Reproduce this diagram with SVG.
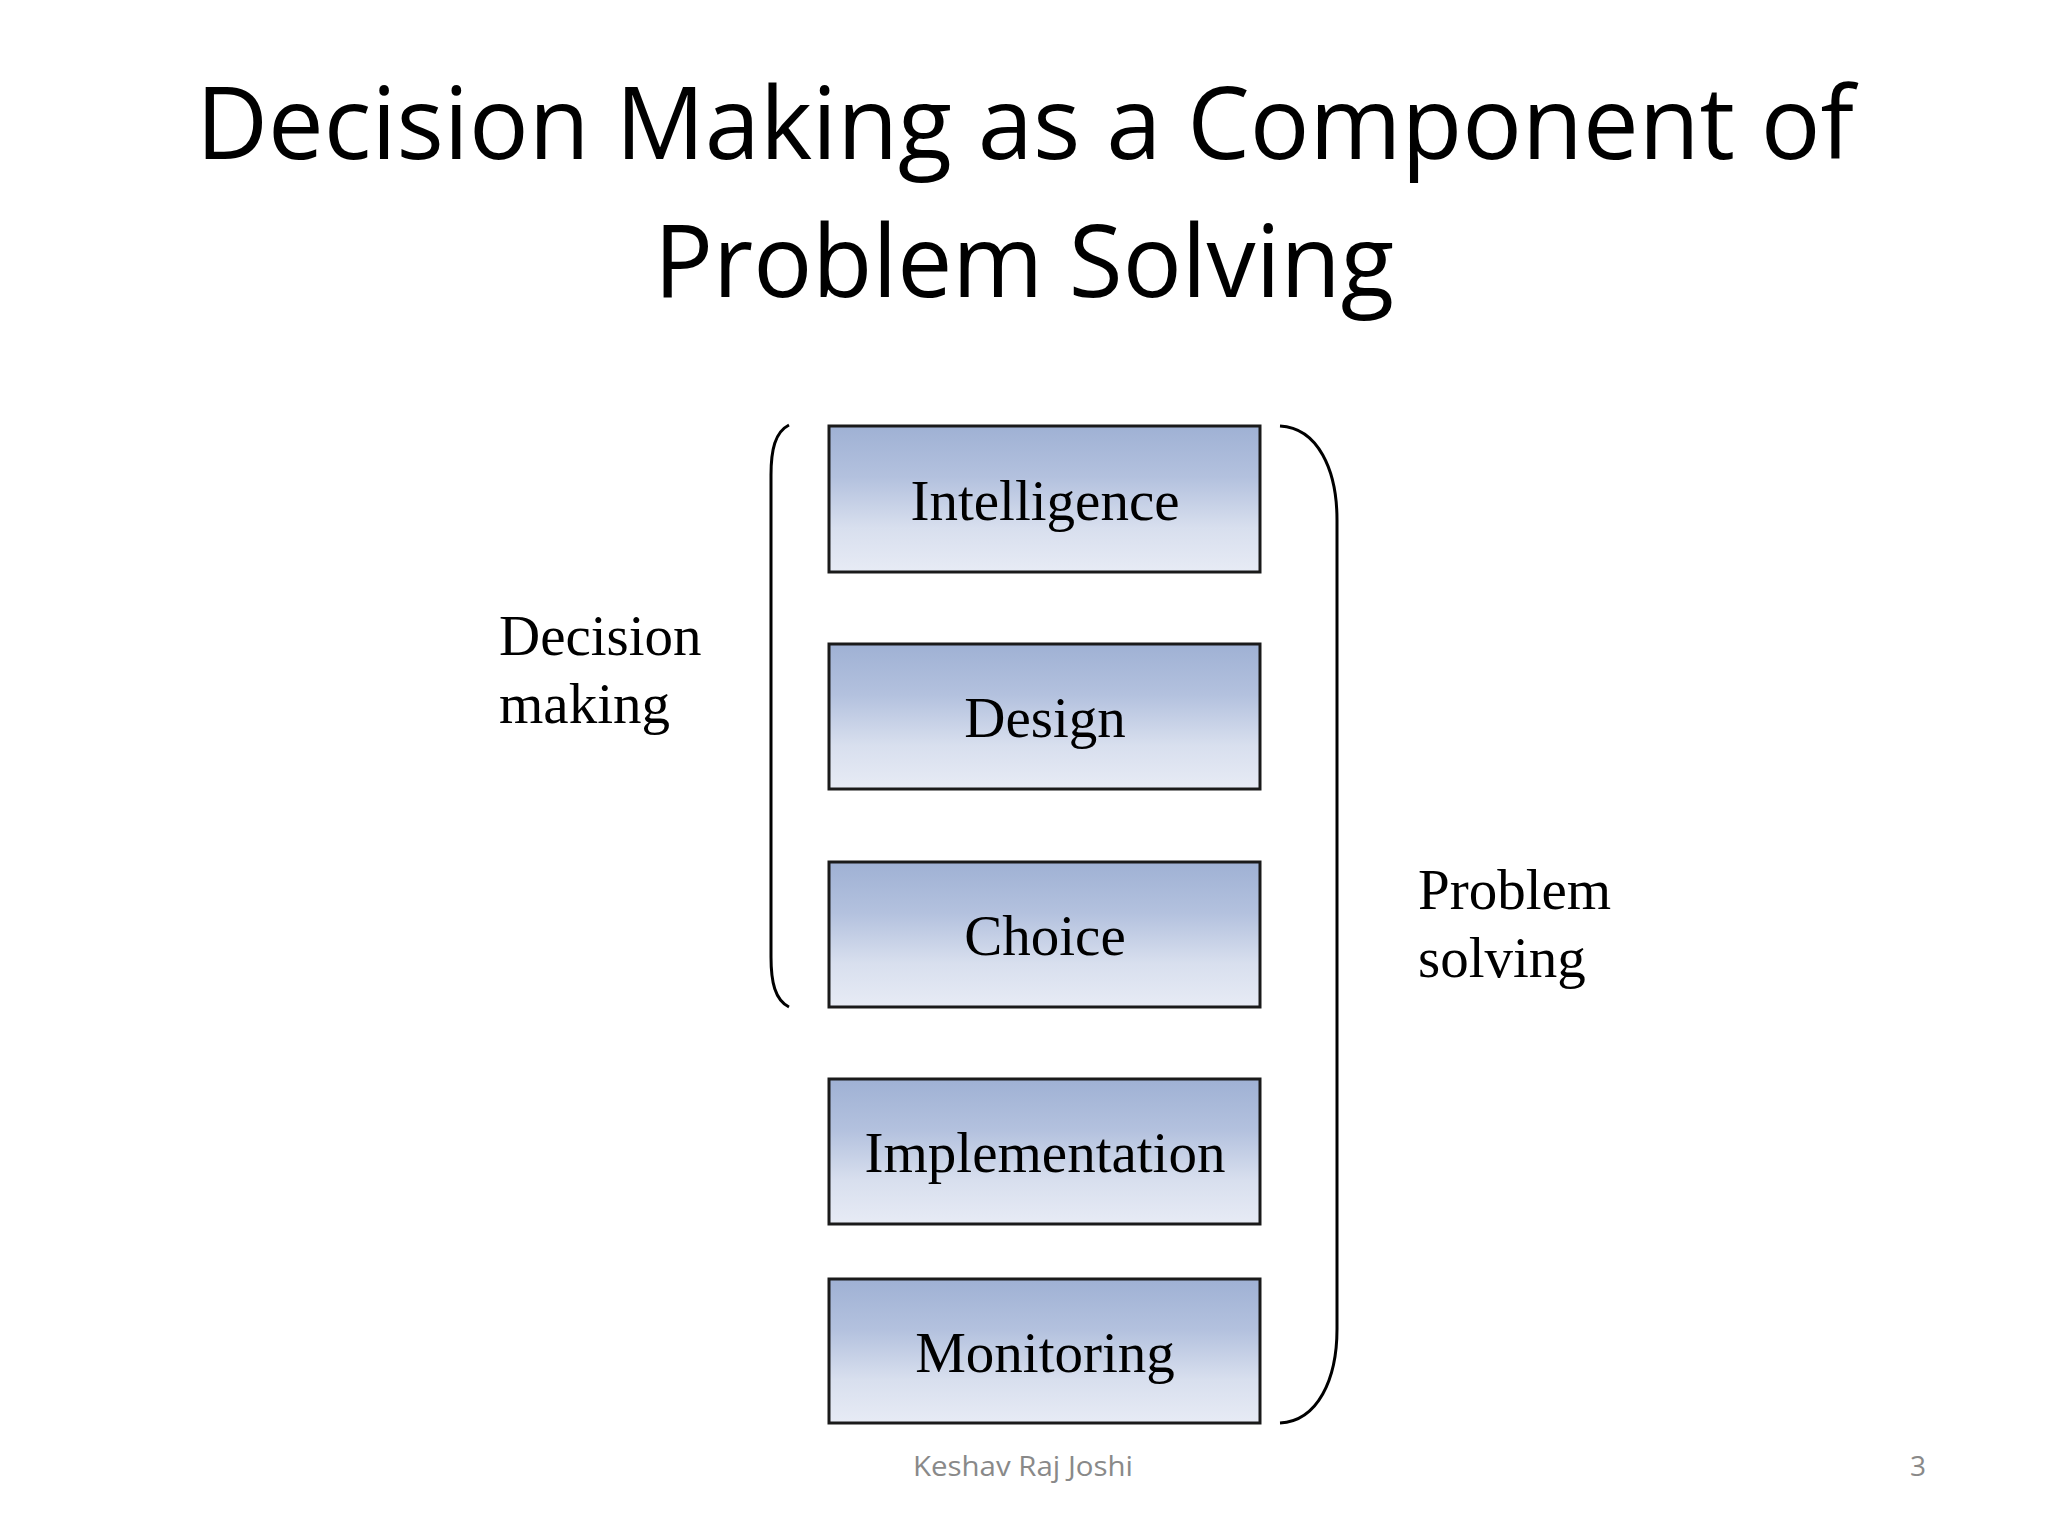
<svg xmlns="http://www.w3.org/2000/svg" width="2048" height="1536" viewBox="0 0 2048 1536">
<defs>
<linearGradient id="boxFill" x1="0" y1="0" x2="0" y2="1">
<stop offset="0" stop-color="#9fb1d4"/>
<stop offset="0.35" stop-color="#b3c1de"/>
<stop offset="0.7" stop-color="#d8dfee"/>
<stop offset="1" stop-color="#e7ebf5"/>
</linearGradient>
<style>
.box{fill:url(#boxFill);stroke:#1a1a1a;stroke-width:3}
.lbl{font-family:"Liberation Serif","Times New Roman",serif;font-size:57px;fill:#000}
.boxlbl{font-family:"Liberation Serif","Times New Roman",serif;font-size:57px;fill:#000;text-anchor:middle}
.title{font-family:"Open Sans","Noto Sans",sans-serif;font-size:101px;fill:#000;text-anchor:middle}
.foot{font-family:"Open Sans","Noto Sans",sans-serif;font-size:28px;fill:#898989}
.brace{fill:none;stroke:#000;stroke-width:3}
</style>
</defs>
<rect width="2048" height="1536" fill="#ffffff"/>
<g id="title">
<text class="title" x="1025" y="159" textLength="1658" lengthAdjust="spacingAndGlyphs">Decision Making as a Component of</text>
<text class="title" x="1024" y="297" textLength="740" lengthAdjust="spacingAndGlyphs">Problem Solving</text>
</g>
<g id="connectors">
<path class="brace" d="M789,425 C775,432 771,450 771,475 L771,957 C771,982 775,1000 789,1007"/>
<path class="brace" d="M1280,426 C1318,428 1337,470 1337,520 L1337,1329 C1337,1379 1318,1421 1280,1423"/>
</g>
<g id="node-intelligence">
<rect class="box" x="829" y="426" width="431" height="146"/>
<text class="boxlbl" x="1045" y="520">Intelligence</text>
</g>
<g id="node-design">
<rect class="box" x="829" y="644" width="431" height="145"/>
<text class="boxlbl" x="1045" y="737">Design</text>
</g>
<g id="node-choice">
<rect class="box" x="829" y="862" width="431" height="145"/>
<text class="boxlbl" x="1045" y="955">Choice</text>
</g>
<g id="node-implementation">
<rect class="box" x="829" y="1079" width="431" height="145"/>
<text class="boxlbl" x="1045" y="1172">Implementation</text>
</g>
<g id="node-monitoring">
<rect class="box" x="829" y="1279" width="431" height="144"/>
<text class="boxlbl" x="1045" y="1372">Monitoring</text>
</g>
<g id="label-decision-making">
<text class="lbl" x="499" y="655">Decision</text>
<text class="lbl" x="499" y="723">making</text>
</g>
<g id="label-problem-solving">
<text class="lbl" x="1418" y="909">Problem</text>
<text class="lbl" x="1418" y="977">solving</text>
</g>
<g id="footer">
<text class="foot" x="913" y="1476" textLength="220" lengthAdjust="spacingAndGlyphs">Keshav Raj Joshi</text>
<text class="foot" x="1910" y="1476">3</text>
</g>
</svg>
